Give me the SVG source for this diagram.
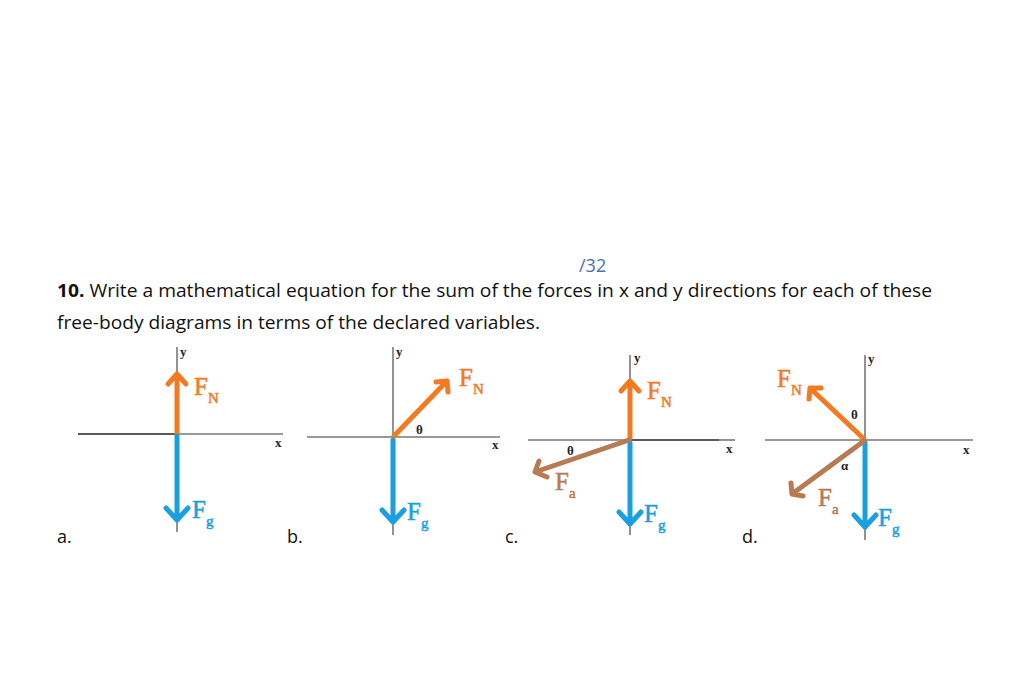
<svg xmlns="http://www.w3.org/2000/svg" width="1024" height="678" viewBox="0 0 1024 678">
<defs>
<style>
.ax{stroke:#777;stroke-width:1.6;fill:none}
.axk{stroke:#222;stroke-width:1.6;fill:none}
.fn{stroke:#f47a22;stroke-width:5;fill:none;stroke-linecap:round;stroke-linejoin:round}
.fg{stroke:#1a9fe0;stroke-width:5;fill:none;stroke-linecap:round;stroke-linejoin:round}
.fa{stroke:#b87a52;stroke-width:5;fill:none;stroke-linecap:round;stroke-linejoin:round}
.lab{font-family:"Liberation Serif",serif;font-weight:bold;font-size:13px;fill:#222}
.F{font-family:"Liberation Serif",serif;font-size:25px;stroke-width:0.5}
.sub{font-size:15px}
.on{fill:#f47a22;stroke:#f47a22}.gn{fill:#1a9fe0;stroke:#1a9fe0}.bn{fill:#b87a52;stroke:#b87a52}
.txt{font-family:"Open Sans","Liberation Sans",sans-serif;font-size:18px;fill:#111}
</style>
</defs>
<rect width="1024" height="678" fill="#fff"/>
<text x="579" y="272" class="txt" style="fill:#4a6fb5">/32</text>
<text x="57" y="297" class="txt" textLength="875" lengthAdjust="spacingAndGlyphs"><tspan font-weight="bold">10.</tspan> Write a mathematical equation for the sum of the forces in x and y directions for each of these</text>
<text x="57" y="329" class="txt" textLength="483" lengthAdjust="spacingAndGlyphs">free-body diagrams in terms of the declared variables.</text>

<g id="diagram-a">
<line class="axk" x1="78" y1="434" x2="177" y2="434"/>
<line class="ax" x1="177" y1="434" x2="283" y2="434"/>
<line class="ax" x1="177" y1="347" x2="177" y2="532"/>
<text class="lab" x="180" y="356">y</text>
<text class="lab" x="275" y="447">x</text>
<path class="fn" d="M177 434V374M168 384L177 374L186 384"/>
<path class="fg" d="M177 436V520M166 508L177 520L188 508"/>
<text class="F on" x="194" y="395">F<tspan class="sub" dy="8">N</tspan></text>
<text class="F gn" x="192" y="518">F<tspan class="sub" dy="8">g</tspan></text>
<text class="txt" x="57" y="543">a.</text>
</g>

<g id="diagram-b">
<line class="ax" x1="307" y1="437" x2="500" y2="437"/>
<line class="ax" x1="393" y1="347" x2="393" y2="535"/>
<text class="lab" x="396" y="356">y</text>
<text class="lab" x="492" y="449">x</text>
<path class="fn" d="M394 436L447 381M436 382L447 381L448 392"/>
<path class="fg" d="M393 440V522M382 510L393 522L404 510"/>
<text class="lab" x="416" y="434">θ</text>
<text class="F on" x="459" y="386">F<tspan class="sub" dy="8">N</tspan></text>
<text class="F gn" x="407" y="520">F<tspan class="sub" dy="8">g</tspan></text>
<text class="txt" x="287" y="543">b.</text>
</g>

<g id="diagram-c">
<line class="ax" x1="528" y1="440" x2="630" y2="440"/>
<line class="axk" x1="630" y1="440" x2="719" y2="440"/>
<line class="ax" x1="719" y1="440" x2="735" y2="440"/>
<line class="ax" x1="630" y1="355" x2="630" y2="535"/>
<text class="lab" x="634" y="362">y</text>
<text class="lab" x="726" y="453">x</text>
<path class="fn" d="M630 438V381M621 391L630 381L639 391"/>
<path class="fg" d="M630 443V524M619 512L630 524L641 512"/>
<path class="fa" d="M629 440L535 472M539 461L535 472L547 477"/>
<text class="lab" x="567" y="455">θ</text>
<text class="F on" x="647" y="399">F<tspan class="sub" dy="8">N</tspan></text>
<text class="F gn" x="644" y="522">F<tspan class="sub" dy="8">g</tspan></text>
<text class="F bn" x="555" y="490">F<tspan class="sub" dy="8">a</tspan></text>
<text class="txt" x="505" y="543">c.</text>
</g>

<g id="diagram-d">
<line class="ax" x1="765" y1="440" x2="973" y2="440"/>
<line class="ax" x1="865" y1="355" x2="865" y2="540"/>
<text class="lab" x="868" y="363">y</text>
<text class="lab" x="963" y="454">x</text>
<path class="fn" d="M864 439L810 388M809 399L810 388L821 388"/>
<path class="fg" d="M865 442V527M854 515L865 527L876 515"/>
<path class="fa" d="M864 441L792 494M791 483L792 494L803 496"/>
<text class="lab" x="851" y="419">θ</text>
<text class="lab" x="841" y="470">α</text>
<text class="F on" x="777" y="387">F<tspan class="sub" dy="8">N</tspan></text>
<text class="F gn" x="878" y="526">F<tspan class="sub" dy="8">g</tspan></text>
<text class="F bn" x="818" y="506">F<tspan class="sub" dy="8">a</tspan></text>
<text class="txt" x="742" y="543">d.</text>
</g>
</svg>
